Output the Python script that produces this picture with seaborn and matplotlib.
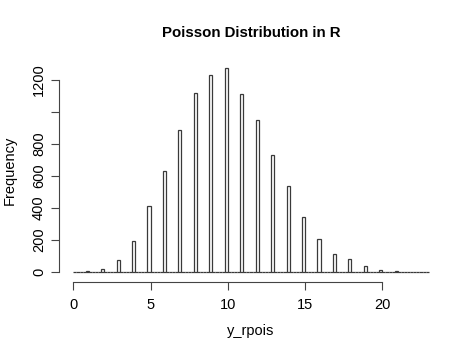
import numpy as np
import pandas as pd
import seaborn as sns
import matplotlib
matplotlib.use("Agg")
import matplotlib.pyplot as plt

# counts of y_rpois values
values = np.arange(0, 24)
counts = [2, 5, 19, 75, 192, 412, 631, 887, 1117, 1229, 1277, 1115,
          948, 733, 535, 342, 204, 110, 83, 40, 11, 9, 3, 1]
xticks = [0, 5, 10, 15, 20]
yticks = [0, 200, 400, 600, 800, 1000, 1200]
ytick_labels = ["0", "200", "400", "600", "800", "", "1200"]

sns.set_style("ticks")
plt.rcParams["font.family"] = ["Liberation Sans", "DejaVu Sans"]
plt.rcParams["text.color"] = "black"
plt.rcParams["axes.labelcolor"] = "black"

fig = plt.figure(figsize=(4.74, 3.55), dpi=100)
ax = fig.add_axes([0.1247, 0.2107, 0.8097, 0.6217])

# R hist: breaks every 0.2, right-closed bins, first bin includes 0
df = pd.DataFrame({"mid": np.where(values == 0, 0.1, values - 0.1),
                   "count": counts})
sns.histplot(data=df, x="mid", weights="count", binwidth=0.2,
             binrange=(0, 23), ax=ax, color="white",
             edgecolor="#3a3a3a", linewidth=0.9, alpha=1)

ax.set_xlim(-0.92, 23.92)
ax.set_ylim(-51, 1328)
ax.set_xticks(xticks)
ax.set_yticks(yticks)
ax.set_yticklabels(ytick_labels, rotation=90, va="center")
ax.tick_params(axis="both", labelsize=10.5, length=5.5, width=0.8,
               color="#444444", labelcolor="black")
ax.tick_params(axis="x", pad=6)
ax.tick_params(axis="y", pad=4)
for s in ["top", "right"]:
    ax.spines[s].set_visible(False)
ax.spines["left"].set_bounds(0, 1200)
ax.spines["bottom"].set_bounds(0, 20)
for s in ["left", "bottom"]:
    ax.spines[s].set_color("#444444")
    ax.spines[s].set_linewidth(0.8)
ax.spines["bottom"].set_position(("outward", 1))

ax.set_xlabel("y_rpois", fontsize=10.5, labelpad=9)
ax.set_ylabel("Frequency", fontsize=10.5, labelpad=11)
ax.set_title("Poisson Distribution in R", fontsize=10.8, fontweight="bold", pad=16)

fig.savefig("out.png", dpi=100)
